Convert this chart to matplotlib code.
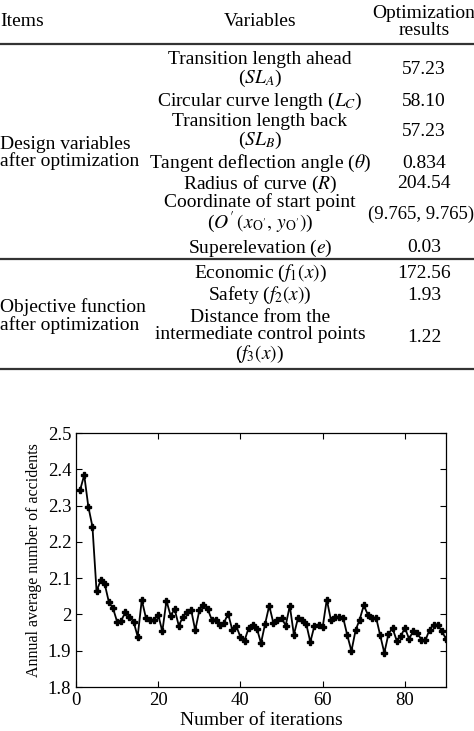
import matplotlib as mpl
import matplotlib.pyplot as plt
import numpy as np

mpl.rcParams.update({
    "font.family": "serif",
    "font.serif": ["Liberation Serif", "DejaVu Serif"],
    "mathtext.fontset": "stix",
    "font.size": 14,
})

# === Table content ===
header = ["Items", "Variables", "Optimization\nresults"]
var_rows = [
    ("Transition length ahead\n($SL_A$)", "57.23"),
    ("Circular curve length ($L_C$)", "58.10"),
    ("Transition length back\n($SL_B$)", "57.23"),
    ("Tangent deflection angle ($\\theta$)", "0.834"),
    ("Radius of curve ($R$)", "204.54"),
    ("Coordinate of start point\n($O'\\,(x_{\\mathrm{O}'},\\,y_{\\mathrm{O}'})$)", "(9.765, 9.765)"),
    ("Superelevation ($e$)", "0.03"),
]
obj_rows = [
    ("Economic ($f_1(x)$)", "172.56"),
    ("Safety ($f_2(x)$)", "1.93"),
    ("Distance from the\nintermediate control points\n($f_3(x)$)", "1.22"),
]

# === Convergence data ===
iterations = np.arange(1, 91)
accidents = [
    2.343, 2.384, 2.297, 2.242, 2.064, 2.094, 2.083, 2.034, 2.017, 1.980,
    1.983, 2.006, 1.994, 1.980, 1.939, 2.040, 1.991, 1.986, 1.985, 1.999,
    1.953, 2.038, 1.997, 2.014, 1.969, 1.993, 2.006, 2.013, 1.956, 2.011,
    2.027, 2.016, 1.986, 1.986, 1.972, 1.977, 2.002, 1.958, 1.967, 1.938,
    1.928, 1.963, 1.972, 1.961, 1.921, 1.974, 2.024, 1.977, 1.985, 1.991,
    1.969, 2.024, 1.944, 1.990, 1.985, 1.974, 1.924, 1.969, 1.972, 1.965,
    2.041, 1.985, 1.992, 1.992, 1.990, 1.942, 1.899, 1.956, 1.986, 2.025,
    1.999, 1.991, 1.991, 1.942, 1.894, 1.946, 1.962, 1.928, 1.940, 1.963,
    1.933, 1.953, 1.950, 1.930, 1.929, 1.958, 1.972, 1.972, 1.953, 1.933,
]
yticks = [1.8, 1.9, 2.0, 2.1, 2.2, 2.3, 2.4, 2.5]
ytick_labels = ["1.8", "1.9", "2", "2.1", "2.2", "2.3", "2.4", "2.5"]

W, H = 474, 731
fig = plt.figure(figsize=(W / 100, H / 100), dpi=100)


def px(x, y):
    return x / W, 1 - y / H


def txt(x, y, s, ha="center", ls=1.0, **kw):
    fig.text(*px(x, y), s, ha=ha, va="center", linespacing=ls, **kw)


def rule(y, lw=1.6):
    fig.add_artist(plt.Line2D([0, 1], [1 - y / H] * 2, color="#333333", lw=lw))


# header
txt(0, 22, "Items", ha="left")
txt(260, 22, "Variables")
txt(424, 22, header[2])
rule(44)

var_y = [70, 101, 132, 163, 184, 214, 248]
for (label, val), y in zip(var_rows, var_y):
    coord = val.startswith("(")
    txt(260, y, label, ls=0.92 if coord else 1.0)
    txt(421 if coord else 424, y, val, fontsize=13.5 if coord else None)
txt(0, 153, "Design variables\nafter optimization", ha="left")
rule(259)

obj_y = [273, 295, 337]
for (label, val), y in zip(obj_rows, obj_y):
    txt(260, y, label)
    txt(424, y, val)
txt(0, 316, "Objective function\nafter optimization", ha="left")
rule(369)

# === Chart ===
ax = fig.add_axes([76 / W, 1 - 687 / H, 370 / W, 254 / H])
ax.plot(iterations, accidents, color="black", lw=1.3, marker="P", markersize=5)
ax.set_xlim(0, 90)
ax.set_ylim(1.8, 2.5)
ax.set_xticks([0, 20, 40, 60, 80])
ax.set_yticks(yticks, ytick_labels)
ax.tick_params(direction="in", top=True, right=True, length=4, labelsize=13.5)
for s in ax.spines.values():
    s.set_linewidth(0.9)
ax.set_xlabel("Number of iterations", fontsize=14, labelpad=2)
ax.set_ylabel("Annual average number of accidents", fontsize=11.5, labelpad=4)

fig.savefig("out.png", dpi=100)
